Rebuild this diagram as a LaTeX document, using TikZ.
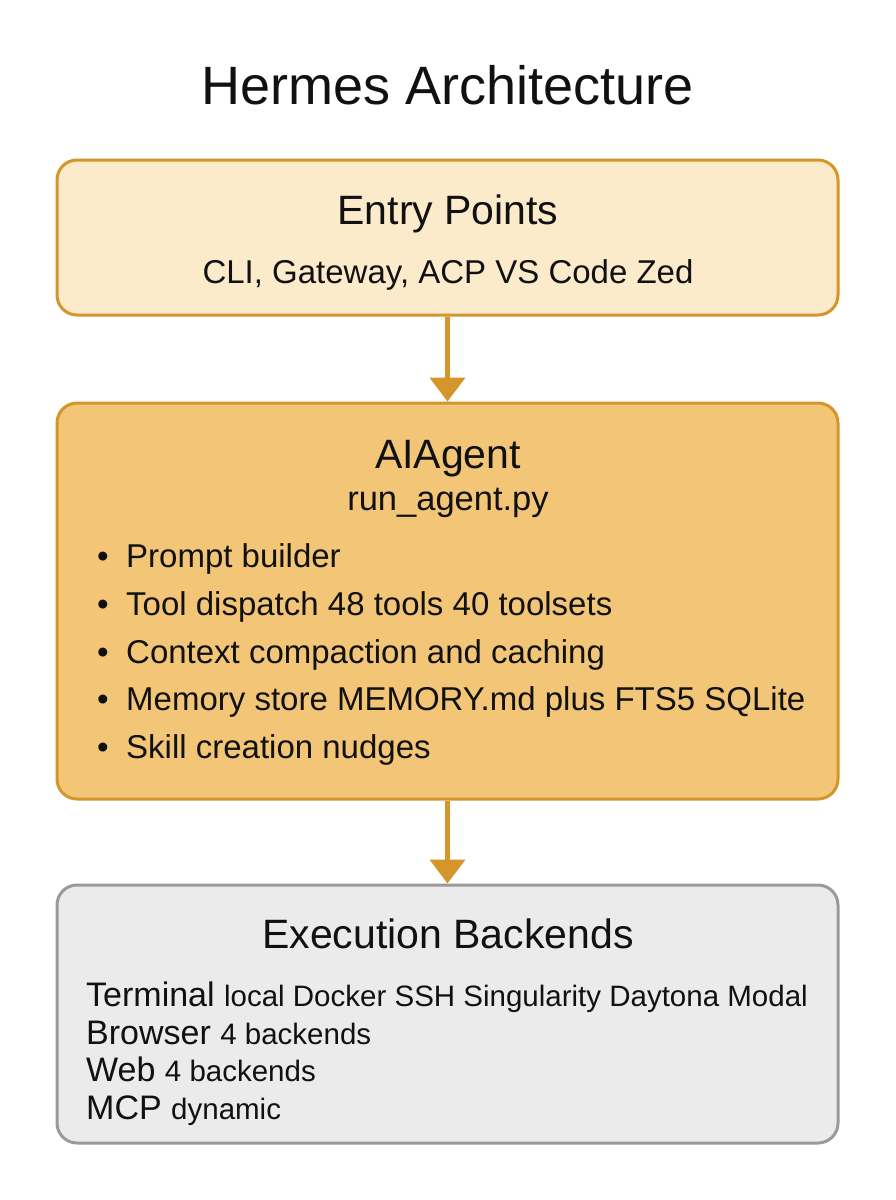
\documentclass[tikz,border=0pt]{standalone}
\usepackage{fontspec}
\setmainfont{Liberation Sans}
\usetikzlibrary{arrows.meta}
\definecolor{gold}{HTML}{D4952B}
\definecolor{entryfill}{HTML}{FCEBCB}
\definecolor{agentfill}{HTML}{F2C676}
\definecolor{execfill}{HTML}{EBEBEB}
\definecolor{execdraw}{HTML}{9A9A9A}
\definecolor{ink}{HTML}{111111}
\newcommand\fTitle{\fontsize{54}{60}\selectfont}
\newcommand\fHead{\fontsize{41}{46}\selectfont}
\newcommand\fBody{\fontsize{33}{38}\selectfont}
\newcommand\fSub{\fontsize{34.5}{40}\selectfont}
\newcommand\fLead{\fontsize{34}{39}\selectfont}
\newcommand\fSmall{\fontsize{29.5}{34}\selectfont}
\tikzset{
  box/.style={line width=3pt, rounded corners=20pt, inner sep=0pt, minimum width=781pt},
  txt/.style={inner sep=0pt, text=ink},
  flow/.style={draw=gold, line width=4.5pt, -{Triangle[width=35pt,length=24pt]}},
}
\begin{document}
\begin{tikzpicture}[x=1pt,y=-1pt]
\useasboundingbox[fill=white] (0,0) rectangle (896,1200);

% title
\node[txt, anchor=base, font=\fTitle] (title) at (448,104) {Hermes Architecture};

% boxes
\node[box, draw=gold, fill=entryfill, minimum height=155pt] (entry) at (447.5,237.5) {};
\node[box, draw=gold, fill=agentfill, minimum height=396pt] (agent) at (447.5,601) {};
\node[box, draw=execdraw, fill=execfill, minimum height=258pt] (exec) at (447.5,1014) {};

% arrows
\draw[flow] (entry.south) -- (agent.north);
\draw[flow] (agent.south) -- (exec.north);

% entry text
\node[txt, anchor=base, font=\fHead] (entryhead) at (448,224) {Entry Points};
\node[txt, anchor=base, font=\fBody] (entrysub) at (448,283) {CLI, Gateway, ACP VS Code Zed};

% agent text
\node[txt, anchor=base, font=\fHead] (agenthead) at (448,468) {AIAgent};
\node[txt, anchor=base, font=\fSub] (agentsub) at (448,510) {run\_agent.py};
\foreach \y/\t [count=\i] in {567.5/Prompt builder,
  615/Tool dispatch 48 tools 40 toolsets,
  663/Context compaction and caching,
  710.5/Memory store MEMORY.md plus FTS5 SQLite,
  758/Skill creation nudges}{
  \node[txt, anchor=base west, font=\fBody] (bul\i) at (97,\y) {•};
  \node[txt, anchor=base west, font=\fBody] (item\i) at (126,\y) {\t};
}

% exec text
\node[txt, anchor=base, font=\fHead] (exechead) at (448,948) {Execution Backends};
\node[txt, anchor=base west] (ex1) at (86,1006.5) {\fLead Terminal \fSmall local Docker SSH Singularity Daytona Modal};
\node[txt, anchor=base west] (ex2) at (86,1044) {\fLead Browser \fSmall 4 backends};
\node[txt, anchor=base west] (ex3) at (86,1081.5) {\fLead Web \fSmall 4 backends};
\node[txt, anchor=base west] (ex4) at (86,1119) {\fLead MCP \fSmall dynamic};
\end{tikzpicture}
\end{document}
